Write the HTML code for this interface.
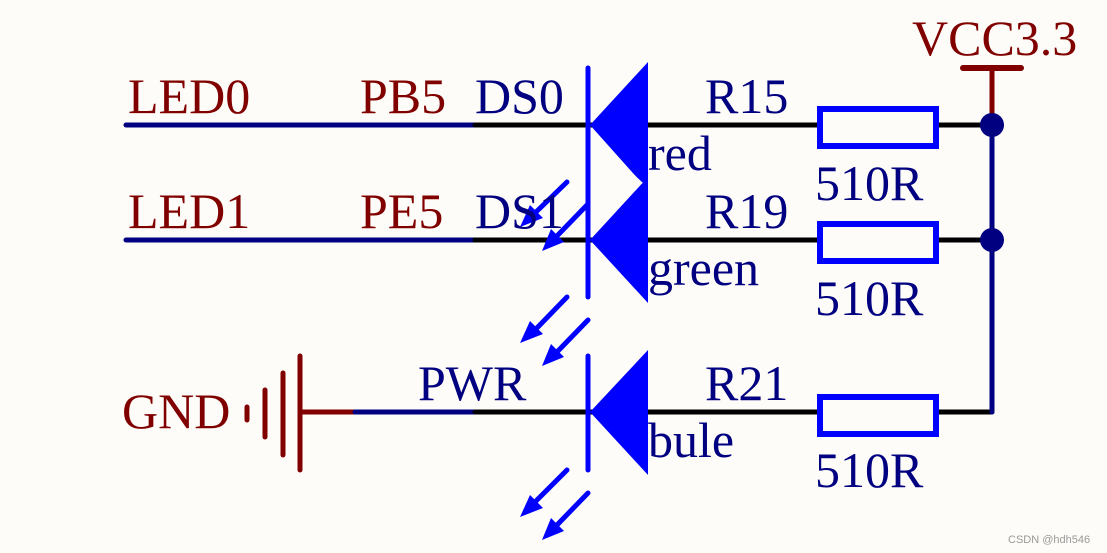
<!DOCTYPE html>
<html><head><meta charset="utf-8"><style>
html,body{margin:0;padding:0;background:#fefcf8;}
svg{display:block;}
text{font-family:"Liberation Serif",serif;font-size:50px;}
.m{fill:#800000}.n{fill:#000080}
</style></head><body>
<svg width="1107" height="553" viewBox="0 0 1107 553" xmlns="http://www.w3.org/2000/svg">
<rect width="1107" height="553" fill="#fefcf8"/>
<g stroke-linecap="round" fill="none" stroke-width="5">
<line x1="126" y1="125" x2="475" y2="125" stroke="#000080"/>
<line x1="475" y1="125" x2="820" y2="125" stroke="#000"/>
<line x1="936" y1="125" x2="992" y2="125" stroke="#000"/>
<line x1="126" y1="240" x2="475" y2="240" stroke="#000080"/>
<line x1="475" y1="240" x2="820" y2="240" stroke="#000"/>
<line x1="936" y1="240" x2="992" y2="240" stroke="#000"/>
<line x1="300" y1="412" x2="355" y2="412" stroke="#800000"/>
<line x1="355" y1="412" x2="475" y2="412" stroke="#000080"/>
<line x1="475" y1="412" x2="820" y2="412" stroke="#000"/>
<line x1="936" y1="412" x2="992" y2="412" stroke="#000"/>
<line x1="992" y1="110" x2="992" y2="412" stroke="#000080"/>
<line x1="992" y1="68" x2="992" y2="112" stroke="#800000"/>
<line x1="963" y1="68" x2="1021" y2="68" stroke="#800000" stroke-width="6"/>
<line x1="300" y1="356" x2="300" y2="470" stroke="#800000"/>
<line x1="283" y1="373" x2="283" y2="455" stroke="#800000"/>
<line x1="265" y1="390" x2="265" y2="437" stroke="#800000"/>
<line x1="247" y1="407" x2="247" y2="420" stroke="#800000"/>
<rect x="820" y="109" width="116" height="37" stroke="#0000ff" stroke-width="6"/>
<rect x="820" y="224" width="116" height="37" stroke="#0000ff" stroke-width="6"/>
<rect x="820" y="397" width="116" height="37" stroke="#0000ff" stroke-width="6"/>
<line x1="588" y1="68" x2="588" y2="297" stroke="#0000ff"/>
<line x1="588" y1="356" x2="588" y2="470" stroke="#0000ff"/>
<g stroke="#0000ff" stroke-width="5">
<line x1="567" y1="182" x2="535" y2="213"/><line x1="587" y1="205" x2="556" y2="237"/>
<line x1="567" y1="297" x2="535" y2="330"/><line x1="588" y1="320" x2="557" y2="352"/>
<line x1="567" y1="470" x2="535" y2="502"/><line x1="588" y1="493" x2="557" y2="525"/>
</g>
</g>
<g fill="#0000ff">
<polygon points="590,125 648,62 648,190"/>
<polygon points="590,240 648,177 648,303"/>
<polygon points="592,135 643,183 592,205" fill="#fefcf8"/>
<polygon points="590,412 648,350 648,475"/>
<polygon points="520,227 530,205 543,218"/>
<polygon points="542,251 551,229 564,242"/>
<polygon points="520,343 530,321 543,334"/>
<polygon points="542,366 551,344 564,357"/>
<polygon points="520,517 530,495 543,508"/>
<polygon points="542,540 551,518 564,531"/>
</g>
<circle cx="992" cy="125" r="12" fill="#000080"/>
<circle cx="992" cy="240" r="12" fill="#000080"/>
<text x="128" y="113" class="m">LED0</text>
<text x="360" y="113" class="m">PB5</text>
<text x="475" y="113" class="n">DS0</text>
<text x="705" y="113" class="n">R15</text>
<text x="648" y="170" class="n">red</text>
<text x="815" y="200" class="n">510R</text>
<text x="128" y="228" class="m">LED1</text>
<text x="360" y="228" class="m">PE5</text>
<text x="475" y="228" class="n">DS1</text>
<text x="705" y="228" class="n">R19</text>
<text x="648" y="285" class="n">green</text>
<text x="815" y="315" class="n">510R</text>
<text x="122" y="428" class="m">GND</text>
<text x="418" y="400" class="n">PWR</text>
<text x="705" y="400" class="n">R21</text>
<text x="648" y="457" class="n">bule</text>
<text x="815" y="487" class="n">510R</text>
<text x="912" y="55" class="m">VCC3.3</text>
<text x="1008" y="543" style="font-family:'Liberation Sans',sans-serif;font-size:11px;fill:#999">CSDN @hdh546</text>
</svg>
</body></html>
